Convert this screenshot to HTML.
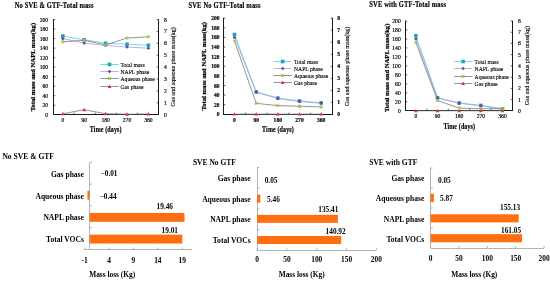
<!DOCTYPE html>
<html><head><meta charset="utf-8"><style>
html,body{margin:0;padding:0;background:#fff;width:550px;height:281px;overflow:hidden}
svg{display:block;filter:blur(0.35px)}
text{font-family:"Liberation Serif", serif}
</style></head><body>
<svg width="550" height="281" viewBox="0 0 550 281">
<rect width="550" height="281" fill="#fff"/>
<text transform="translate(14.80 8.43) scale(1 1.12)" font-size="6.5" font-weight="bold" text-anchor="start" fill="#000" stroke="#000" stroke-width="0.14" letter-spacing="0.132">No SVE &amp; GTF-Total mass</text>
<line x1="53.50" y1="19.30" x2="53.50" y2="115.00" stroke="#1a1a1a" stroke-width="1.0"/>
<text x="48.10" y="117.00" font-size="5.6" font-weight="normal" text-anchor="end" fill="#000" stroke="#000" stroke-width="0.18">0</text>
<line x1="53.50" y1="105.19" x2="55.30" y2="105.19" stroke="#1a1a1a" stroke-width="0.7"/>
<text x="48.10" y="107.00" font-size="5.6" font-weight="normal" text-anchor="end" fill="#000" stroke="#000" stroke-width="0.18">20</text>
<line x1="53.50" y1="95.68" x2="55.30" y2="95.68" stroke="#1a1a1a" stroke-width="0.7"/>
<text x="48.10" y="98.00" font-size="5.6" font-weight="normal" text-anchor="end" fill="#000" stroke="#000" stroke-width="0.18">40</text>
<line x1="53.50" y1="86.17" x2="55.30" y2="86.17" stroke="#1a1a1a" stroke-width="0.7"/>
<text x="48.10" y="88.00" font-size="5.6" font-weight="normal" text-anchor="end" fill="#000" stroke="#000" stroke-width="0.18">60</text>
<line x1="53.50" y1="76.66" x2="55.30" y2="76.66" stroke="#1a1a1a" stroke-width="0.7"/>
<text x="48.10" y="79.00" font-size="5.6" font-weight="normal" text-anchor="end" fill="#000" stroke="#000" stroke-width="0.18">80</text>
<line x1="53.50" y1="67.15" x2="55.30" y2="67.15" stroke="#1a1a1a" stroke-width="0.7"/>
<text x="48.10" y="69.00" font-size="5.6" font-weight="normal" text-anchor="end" fill="#000" stroke="#000" stroke-width="0.18">100</text>
<line x1="53.50" y1="57.64" x2="55.30" y2="57.64" stroke="#1a1a1a" stroke-width="0.7"/>
<text x="48.10" y="60.00" font-size="5.6" font-weight="normal" text-anchor="end" fill="#000" stroke="#000" stroke-width="0.18">120</text>
<line x1="53.50" y1="48.13" x2="55.30" y2="48.13" stroke="#1a1a1a" stroke-width="0.7"/>
<text x="48.10" y="50.00" font-size="5.6" font-weight="normal" text-anchor="end" fill="#000" stroke="#000" stroke-width="0.18">140</text>
<line x1="53.50" y1="38.62" x2="55.30" y2="38.62" stroke="#1a1a1a" stroke-width="0.7"/>
<text x="48.10" y="41.00" font-size="5.6" font-weight="normal" text-anchor="end" fill="#000" stroke="#000" stroke-width="0.18">160</text>
<line x1="53.50" y1="29.11" x2="55.30" y2="29.11" stroke="#1a1a1a" stroke-width="0.7"/>
<text x="48.10" y="31.00" font-size="5.6" font-weight="normal" text-anchor="end" fill="#000" stroke="#000" stroke-width="0.18">180</text>
<line x1="53.50" y1="19.60" x2="55.30" y2="19.60" stroke="#1a1a1a" stroke-width="0.7"/>
<text x="48.10" y="22.00" font-size="5.6" font-weight="normal" text-anchor="end" fill="#000" stroke="#000" stroke-width="0.18">200</text>
<line x1="158.50" y1="19.30" x2="158.50" y2="115.00" stroke="#1a1a1a" stroke-width="1.0"/>
<text x="163.90" y="117.00" font-size="5.6" font-weight="normal" text-anchor="start" fill="#000" stroke="#000" stroke-width="0.18">0</text>
<line x1="156.70" y1="102.81" x2="158.50" y2="102.81" stroke="#1a1a1a" stroke-width="0.7"/>
<text x="163.90" y="105.00" font-size="5.6" font-weight="normal" text-anchor="start" fill="#000" stroke="#000" stroke-width="0.18">1</text>
<line x1="156.70" y1="90.93" x2="158.50" y2="90.93" stroke="#1a1a1a" stroke-width="0.7"/>
<text x="163.90" y="93.00" font-size="5.6" font-weight="normal" text-anchor="start" fill="#000" stroke="#000" stroke-width="0.18">2</text>
<line x1="156.70" y1="79.04" x2="158.50" y2="79.04" stroke="#1a1a1a" stroke-width="0.7"/>
<text x="163.90" y="81.00" font-size="5.6" font-weight="normal" text-anchor="start" fill="#000" stroke="#000" stroke-width="0.18">3</text>
<line x1="156.70" y1="67.15" x2="158.50" y2="67.15" stroke="#1a1a1a" stroke-width="0.7"/>
<text x="163.90" y="69.00" font-size="5.6" font-weight="normal" text-anchor="start" fill="#000" stroke="#000" stroke-width="0.18">4</text>
<line x1="156.70" y1="55.26" x2="158.50" y2="55.26" stroke="#1a1a1a" stroke-width="0.7"/>
<text x="163.90" y="57.00" font-size="5.6" font-weight="normal" text-anchor="start" fill="#000" stroke="#000" stroke-width="0.18">5</text>
<line x1="156.70" y1="43.38" x2="158.50" y2="43.38" stroke="#1a1a1a" stroke-width="0.7"/>
<text x="163.90" y="45.00" font-size="5.6" font-weight="normal" text-anchor="start" fill="#000" stroke="#000" stroke-width="0.18">6</text>
<line x1="156.70" y1="31.49" x2="158.50" y2="31.49" stroke="#1a1a1a" stroke-width="0.7"/>
<text x="163.90" y="33.00" font-size="5.6" font-weight="normal" text-anchor="start" fill="#000" stroke="#000" stroke-width="0.18">7</text>
<line x1="156.70" y1="19.60" x2="158.50" y2="19.60" stroke="#1a1a1a" stroke-width="0.7"/>
<text x="163.90" y="22.00" font-size="5.6" font-weight="normal" text-anchor="start" fill="#000" stroke="#000" stroke-width="0.18">8</text>
<line x1="53.00" y1="114.50" x2="159.00" y2="114.50" stroke="#1a1a1a" stroke-width="1.0"/>
<line x1="74.16" y1="114.50" x2="74.16" y2="112.70" stroke="#1a1a1a" stroke-width="0.7"/>
<line x1="95.22" y1="114.50" x2="95.22" y2="112.70" stroke="#1a1a1a" stroke-width="0.7"/>
<line x1="116.28" y1="114.50" x2="116.28" y2="112.70" stroke="#1a1a1a" stroke-width="0.7"/>
<line x1="137.34" y1="114.50" x2="137.34" y2="112.70" stroke="#1a1a1a" stroke-width="0.7"/>
<text x="62.80" y="122.00" font-size="5.6" font-weight="normal" text-anchor="middle" fill="#000" stroke="#000" stroke-width="0.18">0</text>
<text x="84.20" y="122.00" font-size="5.6" font-weight="normal" text-anchor="middle" fill="#000" stroke="#000" stroke-width="0.18">90</text>
<text x="105.60" y="122.00" font-size="5.6" font-weight="normal" text-anchor="middle" fill="#000" stroke="#000" stroke-width="0.18">180</text>
<text x="127.00" y="122.00" font-size="5.6" font-weight="normal" text-anchor="middle" fill="#000" stroke="#000" stroke-width="0.18">270</text>
<text x="148.40" y="122.00" font-size="5.6" font-weight="normal" text-anchor="middle" fill="#000" stroke="#000" stroke-width="0.18">360</text>
<text transform="translate(105.75 131.94) scale(1 1.22)" font-size="6.0" font-weight="bold" text-anchor="middle" fill="#000" stroke="#000" stroke-width="0.14" letter-spacing="0.13">Time (days)</text>
<text x="33.30" y="69.28" font-size="6.6" font-weight="bold" text-anchor="middle" fill="#000" transform="rotate(-90 33.30 67.10)" stroke="#000" stroke-width="0.2">Total mass and NAPL mass(kg)</text>
<text x="173.30" y="68.78" font-size="6.0" font-weight="normal" text-anchor="middle" fill="#000" transform="rotate(-90 173.30 66.80)" stroke="#000" stroke-width="0.15">Gas and aqueous phase mass(kg)</text>
<polyline points="62.80,36.00 84.20,39.81 105.60,43.28 127.00,44.23 148.40,45.23" fill="none" stroke="#4CCBDF" stroke-width="0.75"/>
<rect x="61.00" y="34.20" width="3.60" height="3.60" fill="#1AA3C8"/>
<rect x="82.40" y="38.01" width="3.60" height="3.60" fill="#1AA3C8"/>
<rect x="103.80" y="41.48" width="3.60" height="3.60" fill="#1AA3C8"/>
<rect x="125.20" y="42.43" width="3.60" height="3.60" fill="#1AA3C8"/>
<rect x="146.60" y="43.43" width="3.60" height="3.60" fill="#1AA3C8"/>
<polyline points="62.80,38.67 84.20,43.09 105.60,45.56 127.00,46.99 148.40,48.27" fill="none" stroke="#AC96DC" stroke-width="0.75"/>
<polygon points="62.80,36.87 64.60,38.67 62.80,40.47 61.00,38.67" fill="#7A3FA6"/>
<polygon points="84.20,41.29 86.00,43.09 84.20,44.89 82.40,43.09" fill="#7A3FA6"/>
<polygon points="105.60,43.76 107.40,45.56 105.60,47.36 103.80,45.56" fill="#7A3FA6"/>
<polygon points="127.00,45.19 128.80,46.99 127.00,48.79 125.20,46.99" fill="#7A3FA6"/>
<polygon points="148.40,46.47 150.20,48.27 148.40,50.07 146.60,48.27" fill="#7A3FA6"/>
<polyline points="62.80,41.83 84.20,40.28 105.60,44.92 127.00,38.03 148.40,36.84" fill="none" stroke="#707070" stroke-width="0.75"/>
<path d="M61.50 40.53L64.10 43.13M61.50 43.13L64.10 40.53" stroke="#9BCB3C" stroke-width="1.25" fill="none"/>
<path d="M82.90 38.98L85.50 41.58M82.90 41.58L85.50 38.98" stroke="#9BCB3C" stroke-width="1.25" fill="none"/>
<path d="M104.30 43.62L106.90 46.22M104.30 46.22L106.90 43.62" stroke="#9BCB3C" stroke-width="1.25" fill="none"/>
<path d="M125.70 36.73L128.30 39.33M125.70 39.33L128.30 36.73" stroke="#9BCB3C" stroke-width="1.25" fill="none"/>
<path d="M147.10 35.54L149.70 38.14M147.10 38.14L149.70 35.54" stroke="#9BCB3C" stroke-width="1.25" fill="none"/>
<polyline points="62.80,113.75 84.20,109.71 105.60,113.75 127.00,114.22 148.40,113.99" fill="none" stroke="#707070" stroke-width="0.75"/>
<polygon points="62.80,111.85 64.70,115.17 60.90,115.17" fill="#E8312F"/>
<polygon points="84.20,107.81 86.10,111.13 82.30,111.13" fill="#E8312F"/>
<polygon points="105.60,111.85 107.50,115.17 103.70,115.17" fill="#E8312F"/>
<polygon points="127.00,112.32 128.90,115.65 125.10,115.65" fill="#E8312F"/>
<polygon points="148.40,112.09 150.30,115.41 146.50,115.41" fill="#E8312F"/>
<line x1="100.40" y1="64.50" x2="118.60" y2="64.50" stroke="#4CCBDF" stroke-width="0.75"/>
<rect x="107.70" y="62.70" width="3.60" height="3.60" fill="#1AA3C8"/>
<text transform="translate(120.50 66.67) scale(1 1.2)" font-size="5.64" font-weight="normal" text-anchor="start" fill="#000" stroke="#000" stroke-width="0.12">Total mass</text>
<line x1="100.40" y1="71.50" x2="118.60" y2="71.50" stroke="#AC96DC" stroke-width="0.75"/>
<polygon points="109.50,69.70 111.30,71.50 109.50,73.30 107.70,71.50" fill="#7A3FA6"/>
<text transform="translate(120.50 73.67) scale(1 1.2)" font-size="5.64" font-weight="normal" text-anchor="start" fill="#000" stroke="#000" stroke-width="0.12">NAPL phase</text>
<line x1="100.40" y1="78.50" x2="118.60" y2="78.50" stroke="#707070" stroke-width="0.75"/>
<path d="M108.20 77.20L110.80 79.80M108.20 79.80L110.80 77.20" stroke="#9BCB3C" stroke-width="1.25" fill="none"/>
<text transform="translate(120.50 80.67) scale(1 1.2)" font-size="5.64" font-weight="normal" text-anchor="start" fill="#000" stroke="#000" stroke-width="0.12">Aqueous phase</text>
<line x1="100.40" y1="86.50" x2="118.60" y2="86.50" stroke="#707070" stroke-width="0.75"/>
<polygon points="109.50,84.60 111.40,87.92 107.60,87.92" fill="#E8312F"/>
<text transform="translate(120.50 88.67) scale(1 1.2)" font-size="5.64" font-weight="normal" text-anchor="start" fill="#000" stroke="#000" stroke-width="0.12">Gas phase</text>
<text transform="translate(188.50 8.23) scale(1 1.12)" font-size="6.5" font-weight="bold" text-anchor="start" fill="#000" stroke="#000" stroke-width="0.14" letter-spacing="0.162">SVE No GTF-Total mass</text>
<line x1="223.50" y1="17.90" x2="223.50" y2="115.00" stroke="#1a1a1a" stroke-width="1.0"/>
<text x="219.60" y="116.00" font-size="5.6" font-weight="bold" text-anchor="end" fill="#000" stroke="#000" stroke-width="0.18">0</text>
<line x1="223.50" y1="104.78" x2="225.30" y2="104.78" stroke="#1a1a1a" stroke-width="0.7"/>
<text x="219.60" y="107.00" font-size="5.6" font-weight="bold" text-anchor="end" fill="#000" stroke="#000" stroke-width="0.18">20</text>
<line x1="223.50" y1="95.16" x2="225.30" y2="95.16" stroke="#1a1a1a" stroke-width="0.7"/>
<text x="219.60" y="97.00" font-size="5.6" font-weight="bold" text-anchor="end" fill="#000" stroke="#000" stroke-width="0.18">40</text>
<line x1="223.50" y1="85.54" x2="225.30" y2="85.54" stroke="#1a1a1a" stroke-width="0.7"/>
<text x="219.60" y="88.00" font-size="5.6" font-weight="bold" text-anchor="end" fill="#000" stroke="#000" stroke-width="0.18">60</text>
<line x1="223.50" y1="75.92" x2="225.30" y2="75.92" stroke="#1a1a1a" stroke-width="0.7"/>
<text x="219.60" y="78.00" font-size="5.6" font-weight="bold" text-anchor="end" fill="#000" stroke="#000" stroke-width="0.18">80</text>
<line x1="223.50" y1="66.30" x2="225.30" y2="66.30" stroke="#1a1a1a" stroke-width="0.7"/>
<text x="219.60" y="68.00" font-size="5.6" font-weight="bold" text-anchor="end" fill="#000" stroke="#000" stroke-width="0.18">100</text>
<line x1="223.50" y1="56.68" x2="225.30" y2="56.68" stroke="#1a1a1a" stroke-width="0.7"/>
<text x="219.60" y="59.00" font-size="5.6" font-weight="bold" text-anchor="end" fill="#000" stroke="#000" stroke-width="0.18">120</text>
<line x1="223.50" y1="47.06" x2="225.30" y2="47.06" stroke="#1a1a1a" stroke-width="0.7"/>
<text x="219.60" y="49.00" font-size="5.6" font-weight="bold" text-anchor="end" fill="#000" stroke="#000" stroke-width="0.18">140</text>
<line x1="223.50" y1="37.44" x2="225.30" y2="37.44" stroke="#1a1a1a" stroke-width="0.7"/>
<text x="219.60" y="39.00" font-size="5.6" font-weight="bold" text-anchor="end" fill="#000" stroke="#000" stroke-width="0.18">160</text>
<line x1="223.50" y1="27.82" x2="225.30" y2="27.82" stroke="#1a1a1a" stroke-width="0.7"/>
<text x="219.60" y="30.00" font-size="5.6" font-weight="bold" text-anchor="end" fill="#000" stroke="#000" stroke-width="0.18">180</text>
<line x1="223.50" y1="18.20" x2="225.30" y2="18.20" stroke="#1a1a1a" stroke-width="0.7"/>
<text x="219.60" y="20.00" font-size="5.6" font-weight="bold" text-anchor="end" fill="#000" stroke="#000" stroke-width="0.18">200</text>
<line x1="332.50" y1="17.90" x2="332.50" y2="115.00" stroke="#1a1a1a" stroke-width="1.0"/>
<text x="337.20" y="116.00" font-size="5.6" font-weight="bold" text-anchor="start" fill="#000" stroke="#000" stroke-width="0.18">0</text>
<line x1="330.70" y1="102.38" x2="332.50" y2="102.38" stroke="#1a1a1a" stroke-width="0.7"/>
<text x="337.20" y="104.00" font-size="5.6" font-weight="bold" text-anchor="start" fill="#000" stroke="#000" stroke-width="0.18">1</text>
<line x1="330.70" y1="90.35" x2="332.50" y2="90.35" stroke="#1a1a1a" stroke-width="0.7"/>
<text x="337.20" y="92.00" font-size="5.6" font-weight="bold" text-anchor="start" fill="#000" stroke="#000" stroke-width="0.18">2</text>
<line x1="330.70" y1="78.33" x2="332.50" y2="78.33" stroke="#1a1a1a" stroke-width="0.7"/>
<text x="337.20" y="80.00" font-size="5.6" font-weight="bold" text-anchor="start" fill="#000" stroke="#000" stroke-width="0.18">3</text>
<line x1="330.70" y1="66.30" x2="332.50" y2="66.30" stroke="#1a1a1a" stroke-width="0.7"/>
<text x="337.20" y="68.00" font-size="5.6" font-weight="bold" text-anchor="start" fill="#000" stroke="#000" stroke-width="0.18">4</text>
<line x1="330.70" y1="54.28" x2="332.50" y2="54.28" stroke="#1a1a1a" stroke-width="0.7"/>
<text x="337.20" y="56.00" font-size="5.6" font-weight="bold" text-anchor="start" fill="#000" stroke="#000" stroke-width="0.18">5</text>
<line x1="330.70" y1="42.25" x2="332.50" y2="42.25" stroke="#1a1a1a" stroke-width="0.7"/>
<text x="337.20" y="44.00" font-size="5.6" font-weight="bold" text-anchor="start" fill="#000" stroke="#000" stroke-width="0.18">6</text>
<line x1="330.70" y1="30.23" x2="332.50" y2="30.23" stroke="#1a1a1a" stroke-width="0.7"/>
<text x="337.20" y="32.00" font-size="5.6" font-weight="bold" text-anchor="start" fill="#000" stroke="#000" stroke-width="0.18">7</text>
<line x1="330.70" y1="18.20" x2="332.50" y2="18.20" stroke="#1a1a1a" stroke-width="0.7"/>
<text x="337.20" y="20.00" font-size="5.6" font-weight="bold" text-anchor="start" fill="#000" stroke="#000" stroke-width="0.18">8</text>
<line x1="223.00" y1="114.50" x2="333.00" y2="114.50" stroke="#1a1a1a" stroke-width="1.0"/>
<line x1="245.58" y1="114.50" x2="245.58" y2="112.70" stroke="#1a1a1a" stroke-width="0.7"/>
<line x1="267.26" y1="114.50" x2="267.26" y2="112.70" stroke="#1a1a1a" stroke-width="0.7"/>
<line x1="288.94" y1="114.50" x2="288.94" y2="112.70" stroke="#1a1a1a" stroke-width="0.7"/>
<line x1="310.62" y1="114.50" x2="310.62" y2="112.70" stroke="#1a1a1a" stroke-width="0.7"/>
<text x="234.50" y="122.00" font-size="5.6" font-weight="bold" text-anchor="middle" fill="#000" stroke="#000" stroke-width="0.18">0</text>
<text x="256.20" y="122.00" font-size="5.6" font-weight="bold" text-anchor="middle" fill="#000" stroke="#000" stroke-width="0.18">90</text>
<text x="277.80" y="122.00" font-size="5.6" font-weight="bold" text-anchor="middle" fill="#000" stroke="#000" stroke-width="0.18">180</text>
<text x="299.50" y="122.00" font-size="5.6" font-weight="bold" text-anchor="middle" fill="#000" stroke="#000" stroke-width="0.18">270</text>
<text x="321.20" y="122.00" font-size="5.6" font-weight="bold" text-anchor="middle" fill="#000" stroke="#000" stroke-width="0.18">360</text>
<text transform="translate(278.00 131.84) scale(1 1.22)" font-size="6.0" font-weight="bold" text-anchor="middle" fill="#000" stroke="#000" stroke-width="0.14" letter-spacing="0.13">Time (days)</text>
<text x="204.30" y="68.43" font-size="6.6" font-weight="bold" text-anchor="middle" fill="#000" transform="rotate(-90 204.30 66.25)" stroke="#000" stroke-width="0.2">Total mass and NAPL mass(kg)</text>
<text x="347.10" y="68.28" font-size="6.0" font-weight="normal" text-anchor="middle" fill="#000" transform="rotate(-90 347.10 66.30)" stroke="#000" stroke-width="0.15">Gas and aqueous phase mass(kg)</text>
<polyline points="234.50,34.55 256.20,91.79 277.80,98.05 299.50,100.93 321.20,102.86" fill="none" stroke="#4CCBDF" stroke-width="0.75"/>
<rect x="232.70" y="32.75" width="3.60" height="3.60" fill="#1AA3C8"/>
<rect x="254.40" y="89.99" width="3.60" height="3.60" fill="#1AA3C8"/>
<rect x="276.00" y="96.25" width="3.60" height="3.60" fill="#1AA3C8"/>
<rect x="297.70" y="99.13" width="3.60" height="3.60" fill="#1AA3C8"/>
<rect x="319.40" y="101.06" width="3.60" height="3.60" fill="#1AA3C8"/>
<polyline points="234.50,37.44 256.20,92.27 277.80,98.53 299.50,101.41 321.20,103.34" fill="none" stroke="#AC96DC" stroke-width="0.75"/>
<polygon points="234.50,35.64 236.30,37.44 234.50,39.24 232.70,37.44" fill="#7A3FA6"/>
<polygon points="256.20,90.47 258.00,92.27 256.20,94.07 254.40,92.27" fill="#7A3FA6"/>
<polygon points="277.80,96.73 279.60,98.53 277.80,100.33 276.00,98.53" fill="#7A3FA6"/>
<polygon points="299.50,99.61 301.30,101.41 299.50,103.21 297.70,101.41" fill="#7A3FA6"/>
<polygon points="321.20,101.54 323.00,103.34 321.20,105.14 319.40,103.34" fill="#7A3FA6"/>
<polyline points="234.50,41.05 256.20,103.34 277.80,105.62 299.50,106.22 321.20,106.94" fill="none" stroke="#707070" stroke-width="0.75"/>
<path d="M233.20 39.75L235.80 42.35M233.20 42.35L235.80 39.75" stroke="#9BCB3C" stroke-width="1.25" fill="none"/>
<path d="M254.90 102.04L257.50 104.64M254.90 104.64L257.50 102.04" stroke="#9BCB3C" stroke-width="1.25" fill="none"/>
<path d="M276.50 104.32L279.10 106.92M276.50 106.92L279.10 104.32" stroke="#9BCB3C" stroke-width="1.25" fill="none"/>
<path d="M298.20 104.92L300.80 107.52M298.20 107.52L300.80 104.92" stroke="#9BCB3C" stroke-width="1.25" fill="none"/>
<path d="M319.90 105.64L322.50 108.24M319.90 108.24L322.50 105.64" stroke="#9BCB3C" stroke-width="1.25" fill="none"/>
<polyline points="234.50,114.16 256.20,114.16 277.80,114.16 299.50,114.16 321.20,114.16" fill="none" stroke="#707070" stroke-width="0.75"/>
<polygon points="234.50,112.26 236.40,115.58 232.60,115.58" fill="#E8312F"/>
<polygon points="256.20,112.26 258.10,115.58 254.30,115.58" fill="#E8312F"/>
<polygon points="277.80,112.26 279.70,115.58 275.90,115.58" fill="#E8312F"/>
<polygon points="299.50,112.26 301.40,115.58 297.60,115.58" fill="#E8312F"/>
<polygon points="321.20,112.26 323.10,115.58 319.30,115.58" fill="#E8312F"/>
<line x1="273.60" y1="61.50" x2="291.80" y2="61.50" stroke="#4CCBDF" stroke-width="0.75"/>
<rect x="280.90" y="59.70" width="3.60" height="3.60" fill="#1AA3C8"/>
<text transform="translate(294.00 63.67) scale(1 1.2)" font-size="5.64" font-weight="normal" text-anchor="start" fill="#000" stroke="#000" stroke-width="0.12">Total mass</text>
<line x1="273.60" y1="68.50" x2="291.80" y2="68.50" stroke="#AC96DC" stroke-width="0.75"/>
<polygon points="282.70,66.70 284.50,68.50 282.70,70.30 280.90,68.50" fill="#7A3FA6"/>
<text transform="translate(294.00 70.67) scale(1 1.2)" font-size="5.64" font-weight="normal" text-anchor="start" fill="#000" stroke="#000" stroke-width="0.12">NAPL phase</text>
<line x1="273.60" y1="75.50" x2="291.80" y2="75.50" stroke="#707070" stroke-width="0.75"/>
<path d="M281.40 74.20L284.00 76.80M281.40 76.80L284.00 74.20" stroke="#9BCB3C" stroke-width="1.25" fill="none"/>
<text transform="translate(294.00 77.67) scale(1 1.2)" font-size="5.64" font-weight="normal" text-anchor="start" fill="#000" stroke="#000" stroke-width="0.12">Aqueous phase</text>
<line x1="273.60" y1="82.50" x2="291.80" y2="82.50" stroke="#707070" stroke-width="0.75"/>
<polygon points="282.70,80.60 284.60,83.92 280.80,83.92" fill="#E8312F"/>
<text transform="translate(294.00 84.67) scale(1 1.2)" font-size="5.64" font-weight="normal" text-anchor="start" fill="#000" stroke="#000" stroke-width="0.12">Gas phase</text>
<text transform="translate(369.30 6.63) scale(1 1.12)" font-size="6.5" font-weight="bold" text-anchor="start" fill="#000" stroke="#000" stroke-width="0.14" letter-spacing="0.157">SVE with GTF-Total mass</text>
<line x1="405.50" y1="20.70" x2="405.50" y2="111.00" stroke="#1a1a1a" stroke-width="1.0"/>
<text x="400.70" y="113.00" font-size="5.6" font-weight="normal" text-anchor="end" fill="#000" stroke="#000" stroke-width="0.18">0</text>
<line x1="405.50" y1="101.82" x2="407.30" y2="101.82" stroke="#1a1a1a" stroke-width="0.7"/>
<text x="400.70" y="104.00" font-size="5.6" font-weight="normal" text-anchor="end" fill="#000" stroke="#000" stroke-width="0.18">20</text>
<line x1="405.50" y1="92.84" x2="407.30" y2="92.84" stroke="#1a1a1a" stroke-width="0.7"/>
<text x="400.70" y="95.00" font-size="5.6" font-weight="normal" text-anchor="end" fill="#000" stroke="#000" stroke-width="0.18">40</text>
<line x1="405.50" y1="83.86" x2="407.30" y2="83.86" stroke="#1a1a1a" stroke-width="0.7"/>
<text x="400.70" y="86.00" font-size="5.6" font-weight="normal" text-anchor="end" fill="#000" stroke="#000" stroke-width="0.18">60</text>
<line x1="405.50" y1="74.88" x2="407.30" y2="74.88" stroke="#1a1a1a" stroke-width="0.7"/>
<text x="400.70" y="77.00" font-size="5.6" font-weight="normal" text-anchor="end" fill="#000" stroke="#000" stroke-width="0.18">80</text>
<line x1="405.50" y1="65.90" x2="407.30" y2="65.90" stroke="#1a1a1a" stroke-width="0.7"/>
<text x="400.70" y="68.00" font-size="5.6" font-weight="normal" text-anchor="end" fill="#000" stroke="#000" stroke-width="0.18">100</text>
<line x1="405.50" y1="56.92" x2="407.30" y2="56.92" stroke="#1a1a1a" stroke-width="0.7"/>
<text x="400.70" y="59.00" font-size="5.6" font-weight="normal" text-anchor="end" fill="#000" stroke="#000" stroke-width="0.18">120</text>
<line x1="405.50" y1="47.94" x2="407.30" y2="47.94" stroke="#1a1a1a" stroke-width="0.7"/>
<text x="400.70" y="50.00" font-size="5.6" font-weight="normal" text-anchor="end" fill="#000" stroke="#000" stroke-width="0.18">140</text>
<line x1="405.50" y1="38.96" x2="407.30" y2="38.96" stroke="#1a1a1a" stroke-width="0.7"/>
<text x="400.70" y="41.00" font-size="5.6" font-weight="normal" text-anchor="end" fill="#000" stroke="#000" stroke-width="0.18">160</text>
<line x1="405.50" y1="29.98" x2="407.30" y2="29.98" stroke="#1a1a1a" stroke-width="0.7"/>
<text x="400.70" y="32.00" font-size="5.6" font-weight="normal" text-anchor="end" fill="#000" stroke="#000" stroke-width="0.18">180</text>
<line x1="405.50" y1="21.00" x2="407.30" y2="21.00" stroke="#1a1a1a" stroke-width="0.7"/>
<text x="400.70" y="23.00" font-size="5.6" font-weight="normal" text-anchor="end" fill="#000" stroke="#000" stroke-width="0.18">200</text>
<line x1="512.50" y1="20.70" x2="512.50" y2="111.00" stroke="#1a1a1a" stroke-width="1.0"/>
<text x="518.00" y="113.00" font-size="5.6" font-weight="normal" text-anchor="start" fill="#000" stroke="#000" stroke-width="0.18">0</text>
<line x1="510.70" y1="99.58" x2="512.50" y2="99.58" stroke="#1a1a1a" stroke-width="0.7"/>
<text x="518.00" y="102.00" font-size="5.6" font-weight="normal" text-anchor="start" fill="#000" stroke="#000" stroke-width="0.18">1</text>
<line x1="510.70" y1="88.35" x2="512.50" y2="88.35" stroke="#1a1a1a" stroke-width="0.7"/>
<text x="518.00" y="90.00" font-size="5.6" font-weight="normal" text-anchor="start" fill="#000" stroke="#000" stroke-width="0.18">2</text>
<line x1="510.70" y1="77.12" x2="512.50" y2="77.12" stroke="#1a1a1a" stroke-width="0.7"/>
<text x="518.00" y="79.00" font-size="5.6" font-weight="normal" text-anchor="start" fill="#000" stroke="#000" stroke-width="0.18">3</text>
<line x1="510.70" y1="65.90" x2="512.50" y2="65.90" stroke="#1a1a1a" stroke-width="0.7"/>
<text x="518.00" y="68.00" font-size="5.6" font-weight="normal" text-anchor="start" fill="#000" stroke="#000" stroke-width="0.18">4</text>
<line x1="510.70" y1="54.67" x2="512.50" y2="54.67" stroke="#1a1a1a" stroke-width="0.7"/>
<text x="518.00" y="57.00" font-size="5.6" font-weight="normal" text-anchor="start" fill="#000" stroke="#000" stroke-width="0.18">5</text>
<line x1="510.70" y1="43.45" x2="512.50" y2="43.45" stroke="#1a1a1a" stroke-width="0.7"/>
<text x="518.00" y="45.00" font-size="5.6" font-weight="normal" text-anchor="start" fill="#000" stroke="#000" stroke-width="0.18">6</text>
<line x1="510.70" y1="32.22" x2="512.50" y2="32.22" stroke="#1a1a1a" stroke-width="0.7"/>
<text x="518.00" y="34.00" font-size="5.6" font-weight="normal" text-anchor="start" fill="#000" stroke="#000" stroke-width="0.18">7</text>
<line x1="510.70" y1="21.00" x2="512.50" y2="21.00" stroke="#1a1a1a" stroke-width="0.7"/>
<text x="518.00" y="23.00" font-size="5.6" font-weight="normal" text-anchor="start" fill="#000" stroke="#000" stroke-width="0.18">8</text>
<line x1="405.00" y1="110.50" x2="513.00" y2="110.50" stroke="#1a1a1a" stroke-width="1.0"/>
<line x1="426.90" y1="110.50" x2="426.90" y2="108.70" stroke="#1a1a1a" stroke-width="0.7"/>
<line x1="448.30" y1="110.50" x2="448.30" y2="108.70" stroke="#1a1a1a" stroke-width="0.7"/>
<line x1="469.70" y1="110.50" x2="469.70" y2="108.70" stroke="#1a1a1a" stroke-width="0.7"/>
<line x1="491.10" y1="110.50" x2="491.10" y2="108.70" stroke="#1a1a1a" stroke-width="0.7"/>
<text x="415.90" y="118.00" font-size="5.6" font-weight="normal" text-anchor="middle" fill="#000" stroke="#000" stroke-width="0.18">0</text>
<text x="437.55" y="118.00" font-size="5.6" font-weight="normal" text-anchor="middle" fill="#000" stroke="#000" stroke-width="0.18">90</text>
<text x="459.20" y="118.00" font-size="5.6" font-weight="normal" text-anchor="middle" fill="#000" stroke="#000" stroke-width="0.18">180</text>
<text x="480.85" y="118.00" font-size="5.6" font-weight="normal" text-anchor="middle" fill="#000" stroke="#000" stroke-width="0.18">270</text>
<text x="502.50" y="118.00" font-size="5.6" font-weight="normal" text-anchor="middle" fill="#000" stroke="#000" stroke-width="0.18">360</text>
<text transform="translate(459.30 128.74) scale(1 1.22)" font-size="6.0" font-weight="bold" text-anchor="middle" fill="#000" stroke="#000" stroke-width="0.14" letter-spacing="0.13">Time (days)</text>
<text x="386.50" y="70.03" font-size="6.6" font-weight="bold" text-anchor="middle" fill="#000" transform="rotate(-90 386.50 67.85)" stroke="#000" stroke-width="0.2">Total mass and NAPL mass(kg)</text>
<text x="527.50" y="67.58" font-size="6.0" font-weight="normal" text-anchor="middle" fill="#000" transform="rotate(-90 527.50 65.60)" stroke="#000" stroke-width="0.15">Gas and aqueous phase mass(kg)</text>
<polyline points="415.90,35.82 437.55,97.78 459.20,102.99 480.85,105.41 502.50,108.78" fill="none" stroke="#4CCBDF" stroke-width="0.75"/>
<rect x="414.10" y="34.02" width="3.60" height="3.60" fill="#1AA3C8"/>
<rect x="435.75" y="95.98" width="3.60" height="3.60" fill="#1AA3C8"/>
<rect x="457.40" y="101.19" width="3.60" height="3.60" fill="#1AA3C8"/>
<rect x="479.05" y="103.61" width="3.60" height="3.60" fill="#1AA3C8"/>
<rect x="500.70" y="106.98" width="3.60" height="3.60" fill="#1AA3C8"/>
<polyline points="415.90,38.96 437.55,98.23 459.20,103.17 480.85,105.86 502.50,109.00" fill="none" stroke="#AC96DC" stroke-width="0.75"/>
<polygon points="415.90,37.16 417.70,38.96 415.90,40.76 414.10,38.96" fill="#7A3FA6"/>
<polygon points="437.55,96.43 439.35,98.23 437.55,100.03 435.75,98.23" fill="#7A3FA6"/>
<polygon points="459.20,101.37 461.00,103.17 459.20,104.97 457.40,103.17" fill="#7A3FA6"/>
<polygon points="480.85,104.06 482.65,105.86 480.85,107.66 479.05,105.86" fill="#7A3FA6"/>
<polygon points="502.50,107.20 504.30,109.00 502.50,110.80 500.70,109.00" fill="#7A3FA6"/>
<polyline points="415.90,42.55 437.55,100.59 459.20,108.11 480.85,108.78 502.50,108.78" fill="none" stroke="#707070" stroke-width="0.75"/>
<path d="M414.60 41.25L417.20 43.85M414.60 43.85L417.20 41.25" stroke="#9BCB3C" stroke-width="1.25" fill="none"/>
<path d="M436.25 99.29L438.85 101.89M436.25 101.89L438.85 99.29" stroke="#9BCB3C" stroke-width="1.25" fill="none"/>
<path d="M457.90 106.81L460.50 109.41M457.90 109.41L460.50 106.81" stroke="#9BCB3C" stroke-width="1.25" fill="none"/>
<path d="M479.55 107.48L482.15 110.08M479.55 110.08L482.15 107.48" stroke="#9BCB3C" stroke-width="1.25" fill="none"/>
<path d="M501.20 107.48L503.80 110.08M501.20 110.08L503.80 107.48" stroke="#9BCB3C" stroke-width="1.25" fill="none"/>
<polyline points="415.90,110.80 437.55,110.80 459.20,110.80 480.85,110.80 502.50,110.80" fill="none" stroke="#707070" stroke-width="0.75"/>
<polygon points="415.90,108.90 417.80,112.22 414.00,112.22" fill="#E8312F"/>
<polygon points="437.55,108.90 439.45,112.22 435.65,112.22" fill="#E8312F"/>
<polygon points="459.20,108.90 461.10,112.22 457.30,112.22" fill="#E8312F"/>
<polygon points="480.85,108.90 482.75,112.22 478.95,112.22" fill="#E8312F"/>
<polygon points="502.50,108.90 504.40,112.22 500.60,112.22" fill="#E8312F"/>
<line x1="454.20" y1="61.50" x2="472.40" y2="61.50" stroke="#4CCBDF" stroke-width="0.75"/>
<rect x="461.30" y="59.70" width="3.60" height="3.60" fill="#1AA3C8"/>
<text transform="translate(474.60 63.67) scale(1 1.2)" font-size="5.64" font-weight="normal" text-anchor="start" fill="#000" stroke="#000" stroke-width="0.12">Total mass</text>
<line x1="454.20" y1="68.50" x2="472.40" y2="68.50" stroke="#AC96DC" stroke-width="0.75"/>
<polygon points="463.10,66.70 464.90,68.50 463.10,70.30 461.30,68.50" fill="#7A3FA6"/>
<text transform="translate(474.60 70.67) scale(1 1.2)" font-size="5.64" font-weight="normal" text-anchor="start" fill="#000" stroke="#000" stroke-width="0.12">NAPL phase</text>
<line x1="454.20" y1="76.50" x2="472.40" y2="76.50" stroke="#707070" stroke-width="0.75"/>
<path d="M461.80 75.20L464.40 77.80M461.80 77.80L464.40 75.20" stroke="#9BCB3C" stroke-width="1.25" fill="none"/>
<text transform="translate(474.60 78.67) scale(1 1.2)" font-size="5.64" font-weight="normal" text-anchor="start" fill="#000" stroke="#000" stroke-width="0.12">Aqueous phase</text>
<line x1="454.20" y1="83.50" x2="472.40" y2="83.50" stroke="#707070" stroke-width="0.75"/>
<polygon points="463.10,81.60 465.00,84.92 461.20,84.92" fill="#E8312F"/>
<text transform="translate(474.60 85.67) scale(1 1.2)" font-size="5.64" font-weight="normal" text-anchor="start" fill="#000" stroke="#000" stroke-width="0.12">Gas phase</text>
<text x="2.40" y="159.00" font-size="7.58" font-weight="bold" text-anchor="start" fill="#000">No SVE &amp; GTF</text>
<line x1="89.50" y1="162.30" x2="89.50" y2="249.50" stroke="#B4B4B4" stroke-width="1.0"/>
<line x1="89.80" y1="162.30" x2="92.00" y2="162.30" stroke="#909090" stroke-width="0.7"/>
<line x1="89.80" y1="184.10" x2="92.00" y2="184.10" stroke="#909090" stroke-width="0.7"/>
<line x1="89.80" y1="205.90" x2="92.00" y2="205.90" stroke="#909090" stroke-width="0.7"/>
<line x1="89.80" y1="227.70" x2="92.00" y2="227.70" stroke="#909090" stroke-width="0.7"/>
<line x1="84.70" y1="249.50" x2="192.00" y2="249.50" stroke="#B4B4B4" stroke-width="1.0"/>
<line x1="84.70" y1="249.50" x2="84.70" y2="247.50" stroke="#909090" stroke-width="0.7"/>
<text x="84.70" y="263.00" font-size="7.4" font-weight="bold" text-anchor="middle" fill="#000">-1</text>
<line x1="109.09" y1="249.50" x2="109.09" y2="247.50" stroke="#909090" stroke-width="0.7"/>
<text x="109.09" y="263.00" font-size="7.4" font-weight="bold" text-anchor="middle" fill="#000">4</text>
<line x1="133.47" y1="249.50" x2="133.47" y2="247.50" stroke="#909090" stroke-width="0.7"/>
<text x="133.47" y="263.00" font-size="7.4" font-weight="bold" text-anchor="middle" fill="#000">9</text>
<line x1="157.86" y1="249.50" x2="157.86" y2="247.50" stroke="#909090" stroke-width="0.7"/>
<text x="157.86" y="263.00" font-size="7.4" font-weight="bold" text-anchor="middle" fill="#000">14</text>
<line x1="182.25" y1="249.50" x2="182.25" y2="247.50" stroke="#909090" stroke-width="0.7"/>
<text x="182.25" y="263.00" font-size="7.4" font-weight="bold" text-anchor="middle" fill="#000">19</text>
<text x="112.20" y="277.00" font-size="7.4" font-weight="bold" text-anchor="middle" fill="#000">Mass loss (Kg)</text>
<text x="83.90" y="177.00" font-size="7.55" font-weight="bold" text-anchor="end" fill="#000">Gas phase</text>
<text x="100.60" y="176.00" font-size="7.3" font-weight="bold" text-anchor="start" fill="#000">−0.01</text>
<text x="83.90" y="199.00" font-size="7.55" font-weight="bold" text-anchor="end" fill="#000">Aqueous phase</text>
<rect x="87.43" y="190.80" width="2.15" height="8.90" fill="#FF6E10"/>
<text x="99.70" y="199.00" font-size="7.3" font-weight="bold" text-anchor="start" fill="#000">−0.44</text>
<text x="83.90" y="220.00" font-size="7.55" font-weight="bold" text-anchor="end" fill="#000">NAPL phase</text>
<rect x="89.58" y="212.95" width="94.91" height="8.90" fill="#FF6E10"/>
<text x="156.60" y="209.00" font-size="7.3" font-weight="bold" text-anchor="start" fill="#000">19.46</text>
<text x="83.90" y="242.00" font-size="7.55" font-weight="bold" text-anchor="end" fill="#000">Total VOCs</text>
<rect x="89.58" y="234.65" width="92.72" height="8.90" fill="#FF6E10"/>
<text x="161.60" y="233.00" font-size="7.3" font-weight="bold" text-anchor="start" fill="#000">19.01</text>
<text x="192.90" y="165.00" font-size="7.53" font-weight="bold" text-anchor="start" fill="#000">SVE No GTF</text>
<line x1="257.50" y1="167.50" x2="257.50" y2="250.20" stroke="#B4B4B4" stroke-width="1.0"/>
<line x1="257.10" y1="167.50" x2="259.30" y2="167.50" stroke="#909090" stroke-width="0.7"/>
<line x1="257.10" y1="188.18" x2="259.30" y2="188.18" stroke="#909090" stroke-width="0.7"/>
<line x1="257.10" y1="208.85" x2="259.30" y2="208.85" stroke="#909090" stroke-width="0.7"/>
<line x1="257.10" y1="229.52" x2="259.30" y2="229.52" stroke="#909090" stroke-width="0.7"/>
<line x1="257.10" y1="250.50" x2="376.40" y2="250.50" stroke="#B4B4B4" stroke-width="1.0"/>
<line x1="257.10" y1="250.20" x2="257.10" y2="248.20" stroke="#909090" stroke-width="0.7"/>
<text x="257.10" y="262.00" font-size="7.4" font-weight="bold" text-anchor="middle" fill="#000">0</text>
<line x1="286.93" y1="250.20" x2="286.93" y2="248.20" stroke="#909090" stroke-width="0.7"/>
<text x="286.93" y="262.00" font-size="7.4" font-weight="bold" text-anchor="middle" fill="#000">50</text>
<line x1="316.75" y1="250.20" x2="316.75" y2="248.20" stroke="#909090" stroke-width="0.7"/>
<text x="316.75" y="262.00" font-size="7.4" font-weight="bold" text-anchor="middle" fill="#000">100</text>
<line x1="346.57" y1="250.20" x2="346.57" y2="248.20" stroke="#909090" stroke-width="0.7"/>
<text x="346.57" y="262.00" font-size="7.4" font-weight="bold" text-anchor="middle" fill="#000">150</text>
<line x1="376.40" y1="250.20" x2="376.40" y2="248.20" stroke="#909090" stroke-width="0.7"/>
<text x="376.40" y="262.00" font-size="7.4" font-weight="bold" text-anchor="middle" fill="#000">200</text>
<text x="301.70" y="277.00" font-size="7.4" font-weight="bold" text-anchor="middle" fill="#000">Mass loss (Kg)</text>
<text x="250.60" y="181.00" font-size="7.55" font-weight="bold" text-anchor="end" fill="#000">Gas phase</text>
<text x="264.70" y="183.00" font-size="7.3" font-weight="bold" text-anchor="start" fill="#000">0.05</text>
<text x="250.60" y="202.00" font-size="7.55" font-weight="bold" text-anchor="end" fill="#000">Aqueous phase</text>
<rect x="257.10" y="194.65" width="3.26" height="8.00" fill="#FF6E10"/>
<text x="267.10" y="202.00" font-size="7.3" font-weight="bold" text-anchor="start" fill="#000">5.46</text>
<text x="250.60" y="222.00" font-size="7.55" font-weight="bold" text-anchor="end" fill="#000">NAPL phase</text>
<rect x="257.10" y="214.85" width="80.77" height="8.00" fill="#FF6E10"/>
<text x="318.30" y="212.00" font-size="7.3" font-weight="bold" text-anchor="start" fill="#000">135.41</text>
<text x="250.60" y="243.00" font-size="7.55" font-weight="bold" text-anchor="end" fill="#000">Total VOCs</text>
<rect x="257.10" y="236.00" width="84.06" height="8.00" fill="#FF6E10"/>
<text x="325.60" y="234.00" font-size="7.3" font-weight="bold" text-anchor="start" fill="#000">140.92</text>
<text x="369.20" y="165.00" font-size="7.54" font-weight="bold" text-anchor="start" fill="#000">SVE with GTF</text>
<line x1="430.50" y1="168.00" x2="430.50" y2="248.00" stroke="#B4B4B4" stroke-width="1.0"/>
<line x1="430.60" y1="168.00" x2="432.80" y2="168.00" stroke="#909090" stroke-width="0.7"/>
<line x1="430.60" y1="188.00" x2="432.80" y2="188.00" stroke="#909090" stroke-width="0.7"/>
<line x1="430.60" y1="208.00" x2="432.80" y2="208.00" stroke="#909090" stroke-width="0.7"/>
<line x1="430.60" y1="228.00" x2="432.80" y2="228.00" stroke="#909090" stroke-width="0.7"/>
<line x1="430.60" y1="248.50" x2="544.10" y2="248.50" stroke="#B4B4B4" stroke-width="1.0"/>
<line x1="430.60" y1="248.00" x2="430.60" y2="246.00" stroke="#909090" stroke-width="0.7"/>
<text x="430.60" y="261.00" font-size="7.4" font-weight="bold" text-anchor="middle" fill="#000">0</text>
<line x1="458.98" y1="248.00" x2="458.98" y2="246.00" stroke="#909090" stroke-width="0.7"/>
<text x="458.98" y="261.00" font-size="7.4" font-weight="bold" text-anchor="middle" fill="#000">50</text>
<line x1="487.35" y1="248.00" x2="487.35" y2="246.00" stroke="#909090" stroke-width="0.7"/>
<text x="487.35" y="261.00" font-size="7.4" font-weight="bold" text-anchor="middle" fill="#000">100</text>
<line x1="515.73" y1="248.00" x2="515.73" y2="246.00" stroke="#909090" stroke-width="0.7"/>
<text x="515.73" y="261.00" font-size="7.4" font-weight="bold" text-anchor="middle" fill="#000">150</text>
<line x1="544.10" y1="248.00" x2="544.10" y2="246.00" stroke="#909090" stroke-width="0.7"/>
<text x="544.10" y="261.00" font-size="7.4" font-weight="bold" text-anchor="middle" fill="#000">200</text>
<text x="474.30" y="277.00" font-size="7.4" font-weight="bold" text-anchor="middle" fill="#000">Mass loss (Kg)</text>
<text x="424.30" y="181.00" font-size="7.55" font-weight="bold" text-anchor="end" fill="#000">Gas phase</text>
<text x="438.00" y="183.00" font-size="7.3" font-weight="bold" text-anchor="start" fill="#000">0.05</text>
<text x="424.30" y="201.00" font-size="7.55" font-weight="bold" text-anchor="end" fill="#000">Aqueous phase</text>
<rect x="430.60" y="193.80" width="3.33" height="8.10" fill="#FF6E10"/>
<text x="440.10" y="201.00" font-size="7.3" font-weight="bold" text-anchor="start" fill="#000">5.87</text>
<text x="424.30" y="222.00" font-size="7.55" font-weight="bold" text-anchor="end" fill="#000">NAPL phase</text>
<rect x="430.60" y="214.30" width="88.04" height="8.10" fill="#FF6E10"/>
<text x="500.00" y="210.00" font-size="7.3" font-weight="bold" text-anchor="start" fill="#000">155.13</text>
<text x="424.30" y="242.00" font-size="7.55" font-weight="bold" text-anchor="end" fill="#000">Total VOCs</text>
<rect x="430.60" y="234.15" width="91.40" height="8.10" fill="#FF6E10"/>
<text x="501.00" y="233.00" font-size="7.3" font-weight="bold" text-anchor="start" fill="#000">161.05</text>
</svg>
</body></html>
